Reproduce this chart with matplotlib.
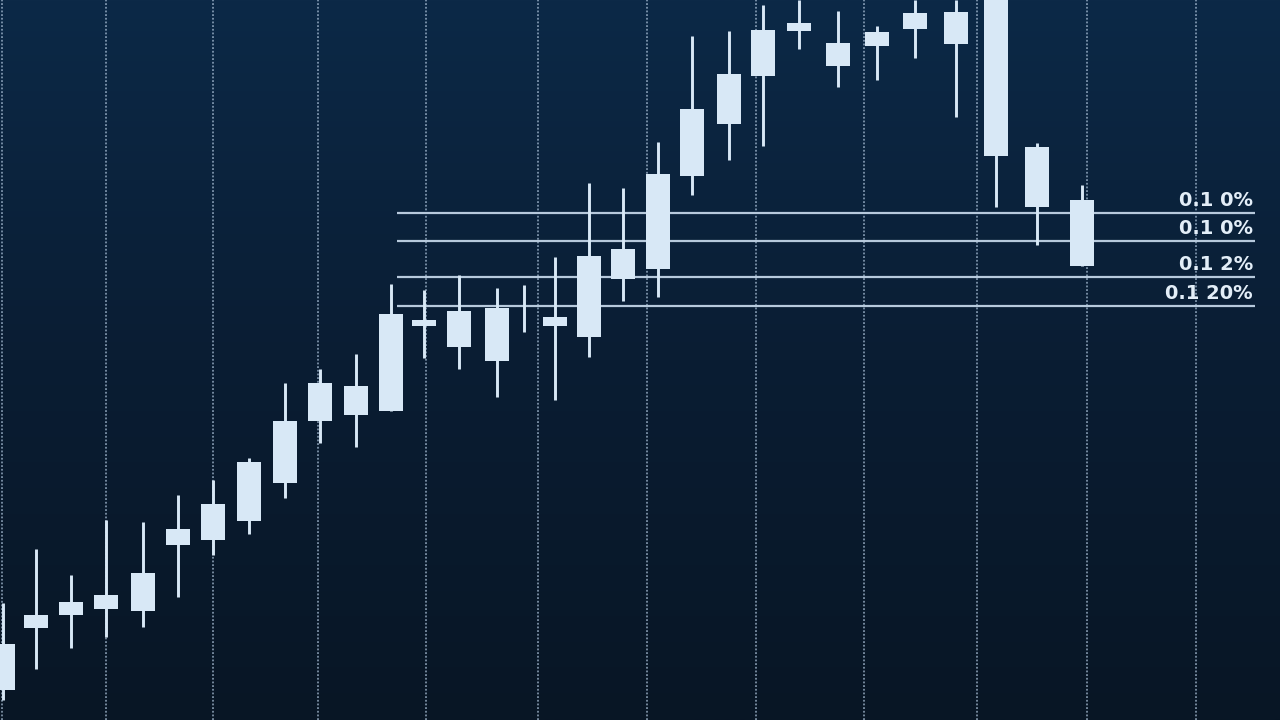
import numpy as np
import matplotlib.pyplot as plt
from matplotlib.colors import LinearSegmentedColormap

# candle data (time units, price units)
t = [3, 36, 71, 106, 143, 178, 213, 249, 285, 320, 356, 391, 424, 459, 497, 524,
     555, 589, 623, 658, 692, 729, 763, 799, 838, 877, 915, 956, 996, 1037, 1082]
opens = [30, 92, 105, 111, 109, 175, 180, 199, 237, 299, 305, 309, 394, 373, 359, 412,
         394, 383, 441, 451, 544, 596, 644, 689, 677, 674, 691, 708, 730, 573, 520]
closes = [76, 105, 118, 125, 147, 191, 216, 258, 299, 337, 334, 406, 400, 409, 412, 412,
          403, 464, 471, 546, 611, 646, 690, 697, 654, 688, 707, 676, 564, 513, 454]
highs = [117, 171, 145, 200, 198, 225, 240, 262, 337, 351, 366, 436, 430, 445, 432, 435,
         463, 537, 532, 578, 684, 689, 715, 720, 709, 694, 720, 720, 730, 577, 535]
lows = [20, 51, 72, 83, 93, 123, 165, 186, 222, 277, 273, 309, 362, 351, 323, 388,
        320, 363, 419, 423, 525, 560, 574, 671, 633, 640, 662, 603, 513, 475, 454]

# vertical time gridlines
grid_t = [2, 106, 213, 318, 426, 538, 647, 756, 864, 977, 1087, 1196]

# horizontal levels and their labels
levels = [507, 479, 443, 414]
level_labels = ["0.1 0%", "0.1 0%", "0.1 2%", "0.1 20%"]

fig = plt.figure(figsize=(12.8, 7.2), dpi=100)
ax = fig.add_axes([0, 0, 1, 1])

# background gradient (lighter navy on top, darker at the bottom)
grad = np.linspace(0, 1, 256).reshape(-1, 1)
bg = LinearSegmentedColormap.from_list("bg", ["#0c2947", "#0a1d33", "#081625"])
ax.imshow(grad, cmap=bg, aspect="auto", extent=[0, 1280, 0, 720], origin="upper", zorder=0)
ax.set_xlim(0, 1280)
ax.set_ylim(0, 720)

# grid
ax.set_xticks(grid_t)
ax.set_yticks([])
ax.xaxis.grid(True, color="#a9bfd6", linestyle=(0, (1.2, 1.2)), linewidth=1.1, alpha=0.85)
ax.set_axisbelow(True)
ax.tick_params(length=0, labelbottom=False)
for s in ax.spines.values():
    s.set_visible(False)

candle_color = "#d8e8f6"

# level lines
ax.hlines(levels, 397, 1255, color="#b7c9dc", linewidth=1.6, zorder=2)
for lv, lab in zip(levels, level_labels):
    ax.text(1253, lv + 3, lab, ha="right", va="bottom", fontsize=14,
            fontweight="bold", color="#e3eef8", zorder=4)

# wicks
ax.vlines(t, lows, highs, color=candle_color, linewidth=2.1, zorder=3)

# bodies
o = np.array(opens)
c = np.array(closes)
bottoms = np.minimum(o, c)
heights = np.abs(c - o)
ax.bar(t, heights, bottom=bottoms, width=24, color=candle_color, edgecolor="none", zorder=3)

fig.savefig("out.png", dpi=100, facecolor="#0a1d33")
